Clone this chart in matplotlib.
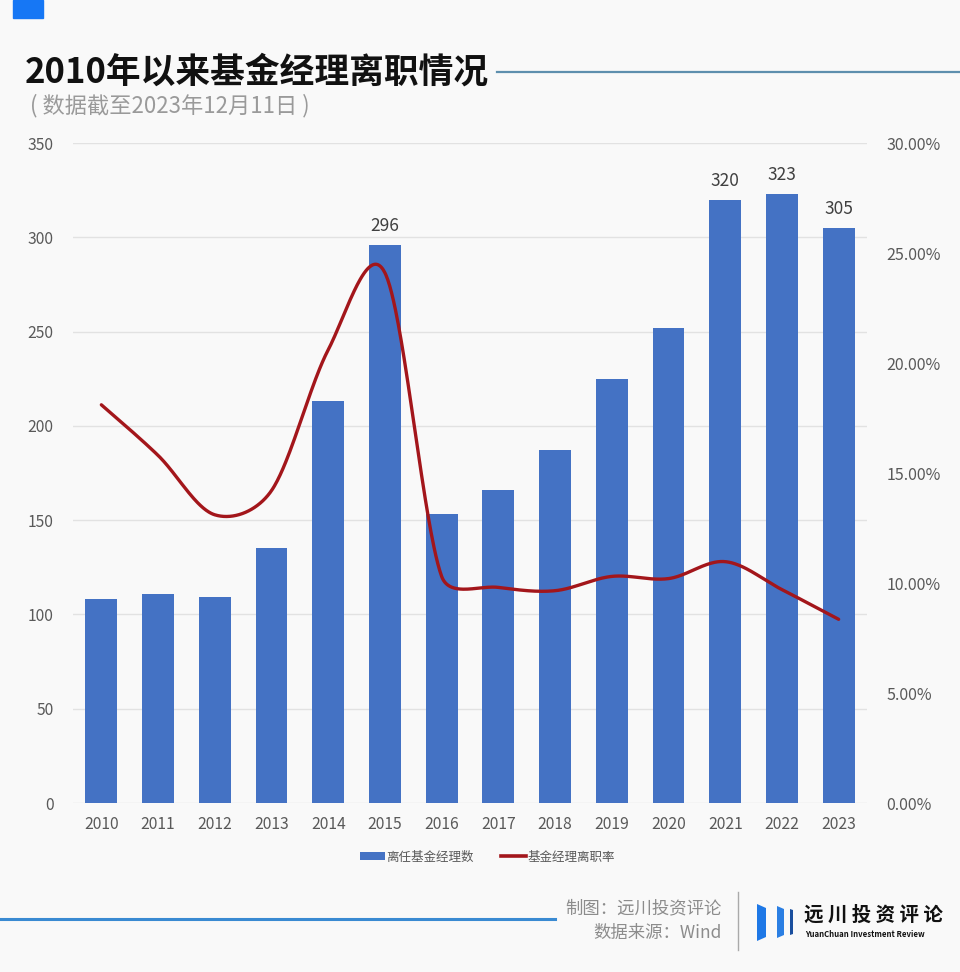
import numpy as np
import matplotlib
matplotlib.use("Agg")
import matplotlib.pyplot as plt
from matplotlib.patches import Rectangle, Polygon, Patch
from matplotlib.lines import Line2D

plt.rcParams['font.family'] = ['Noto Sans CJK SC', 'DejaVu Sans']

years = ['2010', '2011', '2012', '2013', '2014', '2015', '2016',
         '2017', '2018', '2019', '2020', '2021', '2022', '2023']
departures = [108, 111, 109, 135, 213, 296, 153, 166, 187, 225, 252, 320, 323, 305]
rate = [18.1, 15.8, 13.1, 14.2, 20.6, 24.1, 10.3, 9.8, 9.65, 10.3, 10.2, 10.97, 9.7, 8.35]
labeled_years = ['2015', '2021', '2022', '2023']

title = '2010年以来基金经理离职情况'
subtitle = '( 数据截至2023年12月11日 )'
bar_name = '离任基金经理数'
line_name = '基金经理离职率'

W, H = 960, 972
BG = '#F9F9F9'
BAR = '#4472C4'
RED = '#A3161B'

fig = plt.figure(figsize=(W / 100, H / 100), dpi=100, facecolor=BG)


def fx(x):
    return x / W


def fy(y):
    return 1 - y / H


# Axes
ax = fig.add_axes([fx(73), fy(803), fx(867) - fx(73), fy(143) - fy(803)])
ax.set_facecolor(BG)
x = np.arange(len(years))
ax.bar(x, departures, width=0.56, color=BAR, zorder=2)
ax.set_xlim(-0.5, len(years) - 0.5)
ax.set_ylim(0, 350)
ax.set_yticks(np.arange(0, 351, 50))
ax.set_xticks(x)
ax.set_xticklabels(years)
ax.grid(axis='y', color='#E2E2E2', linewidth=1, zorder=0)
for s in ax.spines.values():
    s.set_visible(False)
ax.tick_params(axis='both', length=0, colors='#595959', labelsize=11.3)
ax.tick_params(axis='y', pad=14)
ax.tick_params(axis='x', pad=9)

for i, (yr, v) in enumerate(zip(years, departures)):
    if yr in labeled_years:
        ax.annotate(str(v), (i, v), xytext=(0, 7), textcoords='offset points',
                    ha='center', va='bottom', fontsize=12.5, color='#404040')

# Secondary axis with smoothed line
ax2 = ax.twinx()
ax2.set_ylim(0, 30)
ax2.set_yticks(np.arange(0, 30.1, 5))
ax2.set_yticklabels([f'{t:.2f}%' for t in np.arange(0, 30.1, 5)])
for s in ax2.spines.values():
    s.set_visible(False)
ax2.tick_params(axis='y', length=0, colors='#595959', labelsize=11.5, pad=14)

# Excel-like smoothing: Catmull-Rom Bezier arms, clipped by segment length
sx, sy = 56.85, 22.0
P = np.column_stack([x * sx, np.array(rate) * sy])
n = len(P)


def arm(prev_pt, next_pt, seg_len):
    v = (next_pt - prev_pt) / 6.0
    L = np.linalg.norm(v)
    lim = 0.4 * seg_len
    if L > lim and L > 0:
        v = v * lim / L
    return v


pts = []
t = np.linspace(0, 1, 60)[:, None]
for k in range(n - 1):
    p1, p2 = P[k], P[k + 1]
    p0 = P[k - 1] if k > 0 else p1
    p3 = P[k + 2] if k + 2 < n else p2
    d12 = np.linalg.norm(p2 - p1)
    c1 = p1 + arm(p0, p2, d12)
    c2 = p2 - arm(p1, p3, d12)
    b = ((1 - t) ** 3) * p1 + 3 * ((1 - t) ** 2) * t * c1 + 3 * (1 - t) * t ** 2 * c2 + t ** 3 * p2
    pts.append(b if k == 0 else b[1:])
pts = np.vstack(pts)
ax2.plot(pts[:, 0] / sx, pts[:, 1] / sy, color=RED, linewidth=2.4,
         solid_capstyle='round', zorder=3)

# Legend
handles = [Patch(facecolor=BAR, edgecolor='none'),
           Line2D([0], [0], color=RED, linewidth=2.6)]
fig.legend(handles, [bar_name, line_name], loc='center',
           bbox_to_anchor=(fx(487), fy(857)), ncol=2, frameon=False,
           fontsize=9, labelcolor='#595959', handlelength=2.0, handleheight=0.6,
           handletextpad=0.1, columnspacing=2.2)

# Header decorations
fig.patches.append(Rectangle((fx(13), fy(18)), fx(30), fy(0) - fy(18),
                             transform=fig.transFigure, color='#1677F5'))
fig.text(fx(25), fy(72), title, fontsize=25, fontweight='bold', color='#111111',
         ha='left', va='center')
fig.add_artist(Line2D([fx(497), fx(960)], [fy(72), fy(72)], color='#5E8FAE',
                      linewidth=1.6, transform=fig.transFigure))
fig.text(fx(30), fy(106), subtitle, fontsize=16, color='#9A9A9A',
         ha='left', va='center')

# Footer
fig.add_artist(Line2D([fx(0), fx(555)], [fy(919), fy(919)], color='#3A8AD2',
                      linewidth=2.2, transform=fig.transFigure))
fig.text(fx(722), fy(908), '制图：远川投资评论', fontsize=12.5, color='#8C8C8C',
         ha='right', va='center')
fig.text(fx(722), fy(933), '数据来源：Wind', fontsize=12.5, color='#8C8C8C',
         ha='right', va='center')
fig.add_artist(Line2D([fx(738), fx(738)], [fy(892), fy(950)], color='#AAAAAA',
                      linewidth=1, transform=fig.transFigure))

# Logo bars
for (x0, x1, yt0, yb0, yt1, yb1, col) in [
        (757, 766, 904, 941, 908, 937, '#1E78E6'),
        (777, 784, 906, 938, 909, 935, '#2B7FE3'),
        (790, 793, 909, 935, 910, 934, '#1A4F9E')]:
    poly = Polygon([(fx(x0), fy(yt0)), (fx(x1), fy(yt1)), (fx(x1), fy(yb1)),
                    (fx(x0), fy(yb0))], closed=True, transform=fig.transFigure,
                   facecolor=col, edgecolor='none')
    fig.patches.append(poly)
fig.text(fx(804), fy(915), '远 川 投 资 评 论', fontsize=14, fontweight='bold',
         color='#111111', ha='left', va='center')
fig.text(fx(805), fy(934), 'YuanChuan Investment Review', fontsize=5.6,
         fontweight='bold', color='#111111', ha='left', va='center')

fig.savefig('out.png', dpi=100, facecolor=BG)
